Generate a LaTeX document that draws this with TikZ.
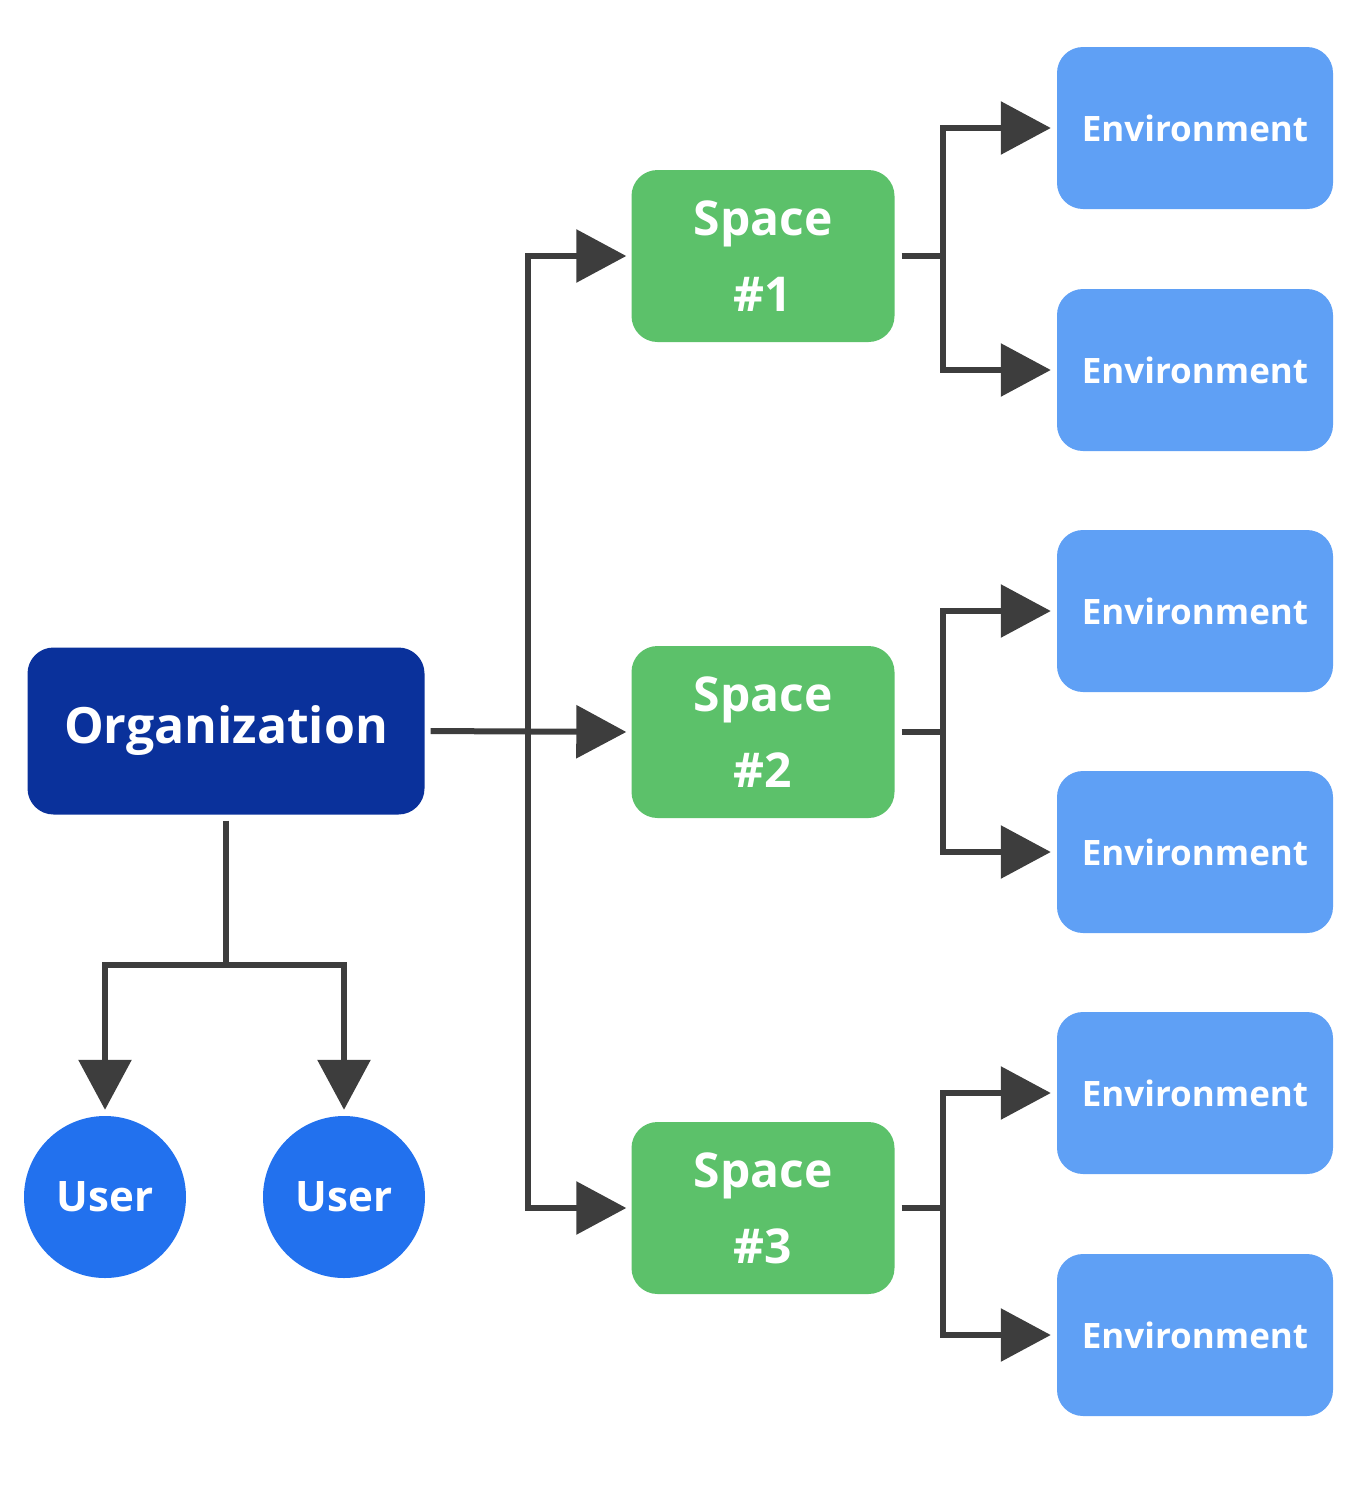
\documentclass[tikz,border=0pt]{standalone}
\usepackage{fontspec}
\setmainfont{Open Sans}
\usetikzlibrary{arrows.meta}
\definecolor{orgc}{HTML}{0A319B}
\definecolor{userc}{HTML}{2271EE}
\definecolor{spc}{HTML}{5CC16A}
\definecolor{envc}{HTML}{5FA0F5}
\definecolor{ln}{HTML}{3D3D3D}
\begin{document}
\begin{tikzpicture}[x=1pt,y=-1pt,
  box/.style={rounded corners=26pt,text=white,font=\bfseries,align=center,inner sep=0pt},
  org/.style={box,fill=orgc,minimum width=397pt,minimum height=167pt,font=\bfseries\fontsize{50}{60}\selectfont},
  sp/.style={box,fill=spc,minimum width=263pt,minimum height=172pt,font=\bfseries\fontsize{48}{76}\selectfont},
  env/.style={box,fill=envc,minimum width=276pt,minimum height=162pt,font=\bfseries\fontsize{35}{42}\selectfont},
  usr/.style={circle,fill=userc,minimum size=162pt,inner sep=0pt,text=white,font=\bfseries\fontsize{42}{50}\selectfont},
  line/.style={draw=ln,line width=6pt},
  arr/.style={line,-{Triangle[length=50pt,width=52pt]}}]
\useasboundingbox (0,0) rectangle (1358,1486);
\node[org] (org) at (226,731) {Organization};
\node[usr] (u1) at (105,1197) {User};
\node[usr] (u2) at (344,1197) {User};
\node[sp] (s1) at (763,256) {Space\\\#1};
\node[sp] (s2) at (763,732) {Space\\\#2};
\node[sp] (s3) at (763,1208) {Space\\\#3};
\node[env] (e1) at (1195,128) {Environment};
\node[env] (e2) at (1195,370) {Environment};
\node[env] (e3) at (1195,611) {Environment};
\node[env] (e4) at (1195,852) {Environment};
\node[env] (e5) at (1195,1093) {Environment};
\node[env] (e6) at (1195,1335) {Environment};
% org to spaces
\coordinate (j) at (528,731);
\draw[arr,shorten <=6pt,shorten >=5pt] (org.east) -- (s2.west);
\draw[arr,shorten >=5pt] (528,731) |- (s1.west);
\draw[arr,shorten >=5pt] (j) |- (s3.west);
% org to users
\coordinate (k) at (226,965);
\draw[line,shorten <=6pt] (org.south) -- (k);
\draw[arr,shorten >=6pt] (k) -| (u1.north);
\draw[arr,shorten >=6pt] (k) -| (u2.north);
% spaces to envs
\foreach \s/\a/\b in {s1/e1/e2,s2/e3/e4,s3/e5/e6}{
  \coordinate (m) at ([xshift=48pt]\s.east);
  \draw[line,shorten <=7pt] (\s.east) -- (m);
  \draw[arr,shorten >=6pt] (m) |- (\a.west);
  \draw[arr,shorten >=6pt] (m) |- (\b.west);
}
\end{tikzpicture}
\end{document}
